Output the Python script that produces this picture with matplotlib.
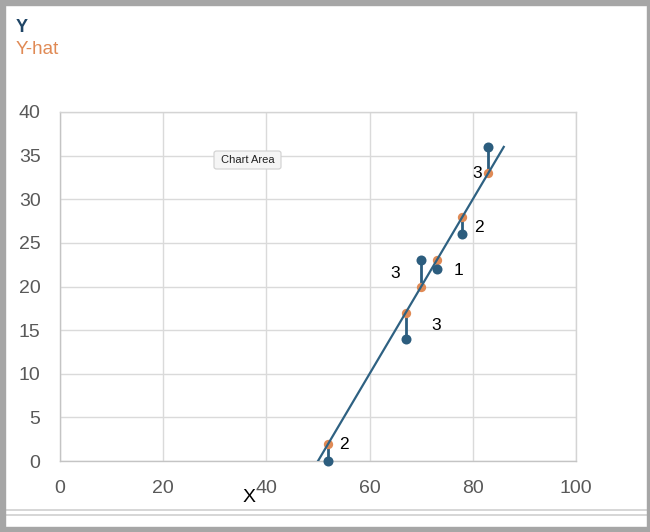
import matplotlib
matplotlib.use('Agg')
import matplotlib.pyplot as plt
from matplotlib.patches import Rectangle, FancyBboxPatch
from matplotlib.lines import Line2D
import numpy as np

plt.rcParams['font.family'] = ['Liberation Sans', 'DejaVu Sans']

# data
x_vals = [52, 67, 70, 73, 78, 83]
y_vals = [0, 14, 23, 22, 26, 36]
yhat_vals = [2, 17, 20, 23, 28, 33]
trend_range = [49, 86]
x_ticks = [0, 20, 40, 60, 80, 100]
y_ticks = [0, 5, 10, 15, 20, 25, 30, 35, 40]

# label offsets in pixels from the middle of each residual segment
label_offsets = [(16, 8), (30, 0), (-26, 0), (22, -6), (16, -2), (-11, -14)]

c_y = '#2c5d7e'
c_hat = '#e08a55'
c_line = '#2e6182'

W, H = 650, 532
fig = plt.figure(figsize=(W / 100, H / 100), dpi=100)
fig.patch.set_facecolor('white')

ax = fig.add_axes([60 / W, (H - 461) / H, 516 / W, 349 / H])
ax.set_xlim(0, 100)
ax.set_ylim(0, 40)
ax.set_xticks(x_ticks)
ax.set_yticks(y_ticks)
ax.grid(True, color='#dadada', linewidth=1)
ax.set_axisbelow(True)
for s in ax.spines.values():
    s.set_color('#d4d4d4')
    s.set_linewidth(1)
ax.spines['bottom'].set_color('#c4c4c4')
ax.spines['left'].set_color('#c4c4c4')
ax.tick_params(length=0, labelsize=14, labelcolor='#595959')
ax.tick_params(axis='x', pad=14)
ax.tick_params(axis='y', pad=14)

# trendline fitted on the predicted values
coef = np.polyfit(x_vals, yhat_vals, 1)
tx = np.array(trend_range)
ax.plot(tx, np.polyval(coef, tx), color=c_line, linewidth=1.6, zorder=4)

# residual segments
ax.vlines(x_vals, y_vals, yhat_vals, color=c_y, linewidth=2, zorder=3)
ax.scatter(x_vals, yhat_vals, s=45, color=c_hat, zorder=3.5, linewidths=0)
ax.scatter(x_vals, y_vals, s=52, color=c_y, zorder=5, linewidths=0, clip_on=False)

resid = np.abs(np.array(y_vals) - np.array(yhat_vals))
for xv, yv, hv, r, off in zip(x_vals, y_vals, yhat_vals, resid, label_offsets):
    ax.annotate(str(r), ((xv), (yv + hv) / 2), xytext=off, textcoords='offset pixels',
                ha='center', va='center', fontsize=12.5, color='black', zorder=6)

ax.set_xlabel('X', fontsize=14, color='black')
ax.xaxis.set_label_coords((249 - 60) / 516, (461 - 497) / 349)
ax.xaxis.label.set_va('center')

# legend text
fig.text(16 / W, 1 - 28 / H, 'Y', fontsize=13, fontweight='bold', color='#1f4566', va='center')
fig.text(16 / W, 1 - 50 / H, 'Y-hat', fontsize=13.5, color=c_hat, va='center')

# tooltip
tip = FancyBboxPatch((214 / W, 1 - 169 / H), 67 / W, 18 / H,
                     boxstyle='round,pad=0,rounding_size=0.004', transform=fig.transFigure,
                     facecolor='#f5f5f5', edgecolor='#d0d0d0', linewidth=0.8, zorder=10)
fig.patches.append(tip)
fig.text(247.5 / W, 1 - 160 / H, 'Chart Area', fontsize=8, color='#222222',
         ha='center', va='center', zorder=11)

# window frame
gray = '#a6a6a6'
fig.patches.append(Rectangle((0, 0), 5 / W, 1, transform=fig.transFigure, color=gray, zorder=20))
fig.patches.append(Rectangle((0, 1 - 5 / H), 1, 5 / H, transform=fig.transFigure, color=gray, zorder=20))
fig.patches.append(Rectangle((0, 0), 1, 5 / H, transform=fig.transFigure, color=gray, zorder=20))
fig.patches.append(Rectangle((1 - 3 / W, 0), 3 / W, 1, transform=fig.transFigure, color=gray, zorder=20))
for yy in (510, 515):
    fig.lines.append(Line2D([5 / W, 1], [1 - yy / H, 1 - yy / H], transform=fig.transFigure,
                            color='#cfcfcf', linewidth=1.2, zorder=20))

fig.savefig('out.png', dpi=100)
